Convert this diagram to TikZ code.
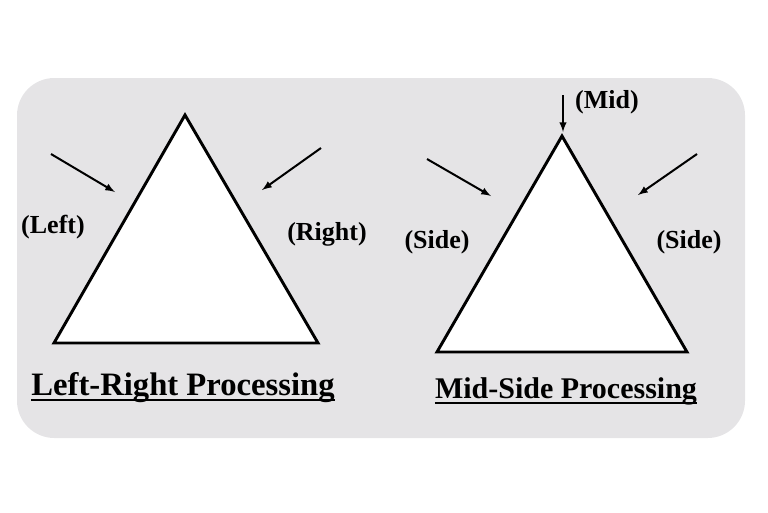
\documentclass[tikz,border=0pt]{standalone}
\usepackage{fontspec}
\setmainfont{Liberation Serif}
\usepackage{tikz}
\usetikzlibrary{arrows}
\definecolor{panelgrey}{HTML}{E5E4E6}
\tikzset{
    side/.style={draw=black, fill=white, line width=2.2pt, line join=miter},
    inarrow/.style={-latex, line width=1.5pt},
    chan/.style={anchor=base, font=\bfseries\fontsize{19.5}{22}\selectfont},
    heading/.style={anchor=base, inner sep=0pt, font=\bfseries\fontsize{#1}{27}\selectfont}
}

\begin{document}
\begin{tikzpicture}[x=0.75pt, y=-0.75pt]
\useasboundingbox (0,0) rectangle (768,512);
\fill[panelgrey, rounded corners=28] (17,78) rectangle (745,438);
% triangles
\draw[side] (185,115) -- (318,343) -- (54,343) -- cycle;
\draw[side] (562,136) -- (687,352) -- (437,352) -- cycle;
% arrows
\foreach \x/\y/\p in {51/154/lrls, 115/192/lrle, 321/148/lrrs, 262/190/lrre,
                      563/95/msms, 563/132/msme, 427/159/msls, 491/196/msle,
                      697/154/msrs, 638/195/msre}{
    \coordinate (\p) at (\x,\y);
}
\draw[inarrow] (lrls) -- (lrle);
\draw[inarrow] (lrrs) -- (lrre);
\draw[inarrow] (msms) -- (msme);
\draw[inarrow] (msls) -- (msle);
\draw[inarrow] (msrs) -- (msre);
% labels
\foreach \x/\y/\p/\labeltext in {53/233/left/{(Left)}, 327/240/right/{(Right)},
                                 607/108/mid/{(Mid)}, 437/248/sidel/{(Side)}, 689/248/sider/{(Side)}}{
    \node[chan] (\p) at (\x,\y) {\labeltext};
}
\node[heading=24.5] (lrtitle) at (183,395) {Left-Right Processing};
\node[heading=22.5] (mstitle) at (566,398) {Mid-Side Processing};
\draw[line width=1.4pt] ([yshift=-4pt]lrtitle.base west) -- ([yshift=-4pt]lrtitle.base east);
\draw[line width=1.4pt] ([yshift=-4pt]mstitle.base west) -- ([yshift=-4pt]mstitle.base east);
\end{tikzpicture}
\end{document}
